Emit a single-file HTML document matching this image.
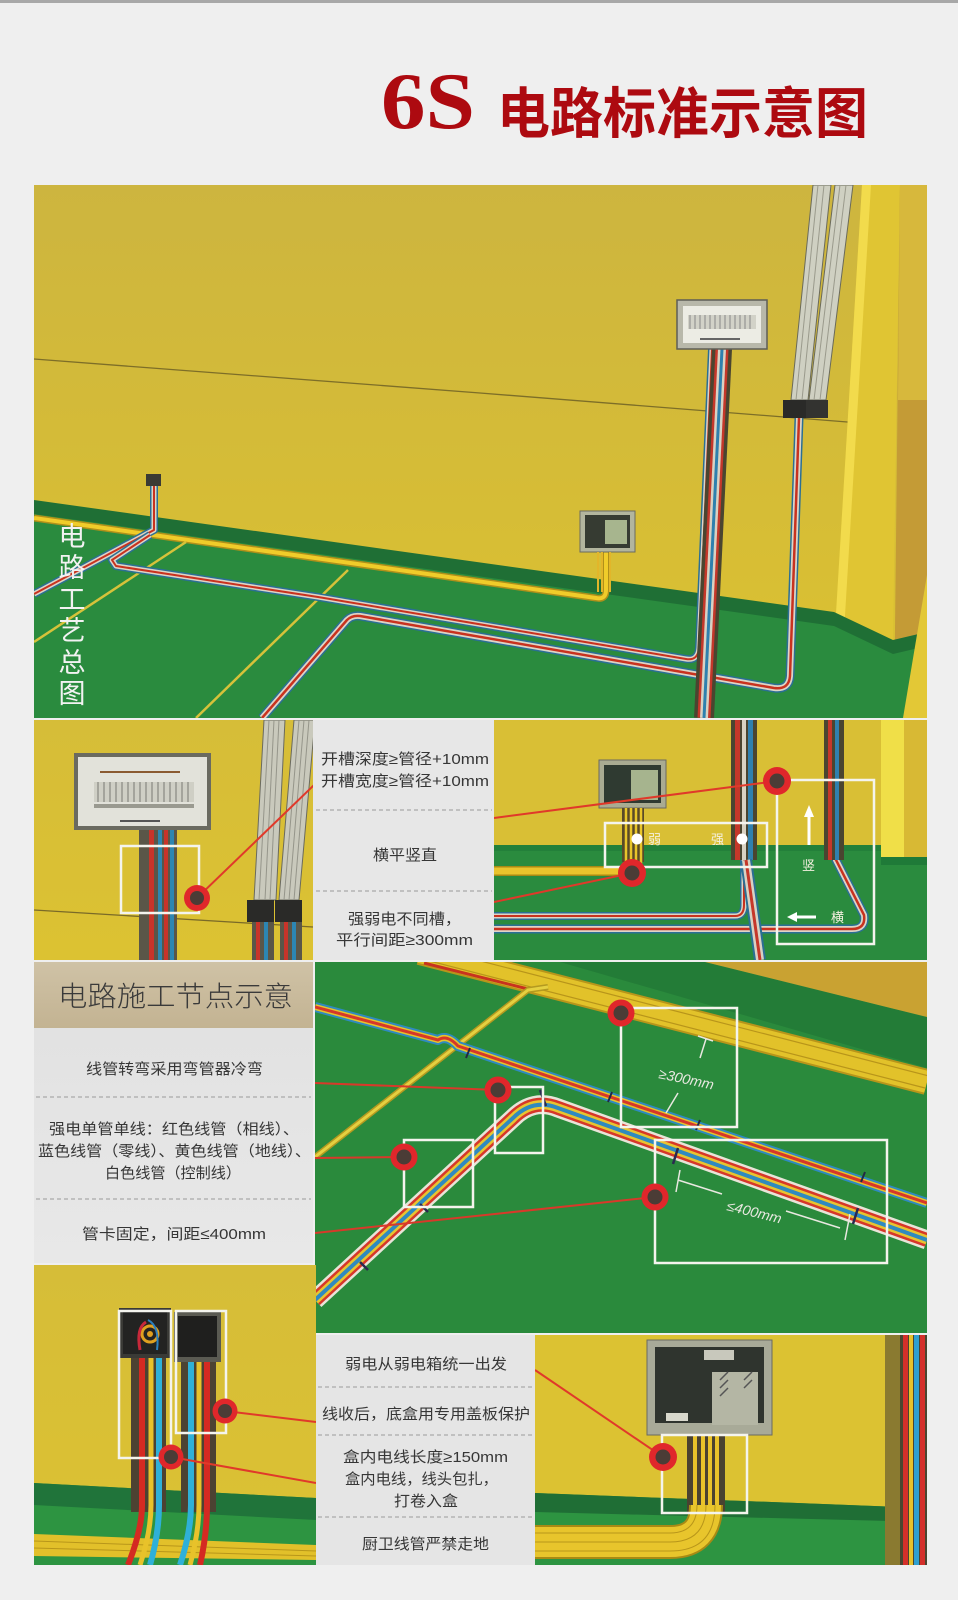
<!DOCTYPE html>
<html><head><meta charset="utf-8">
<style>
html,body{margin:0;padding:0;background:#efefef;width:958px;height:1600px;overflow:hidden}
svg{display:block}
</style></head>
<body>
<svg width="958" height="1600" viewBox="0 0 958 1600" xmlns="http://www.w3.org/2000/svg" xmlns:xlink="http://www.w3.org/1999/xlink" font-family="'Liberation Sans','Noto Sans CJK SC',sans-serif">
<defs>
  <clipPath id="c1"><rect x="34" y="185" width="893" height="533"/></clipPath>
  <clipPath id="c2l"><rect x="34" y="720" width="279" height="240"/></clipPath>
  <clipPath id="c2r"><rect x="494" y="720" width="433" height="240"/></clipPath>
  <clipPath id="c3r"><rect x="315" y="962" width="612" height="371"/></clipPath>
  <clipPath id="c4l"><rect x="34" y="1265" width="282" height="300"/></clipPath>
  <clipPath id="c4r"><rect x="535" y="1335" width="392" height="230"/></clipPath>
  <linearGradient id="gw1" x1="0" y1="0" x2="0" y2="1">
    <stop offset="0" stop-color="#cdb53f"/><stop offset="1" stop-color="#dcc230"/>
  </linearGradient>
  <linearGradient id="gw2" x1="0" y1="0" x2="0" y2="1">
    <stop offset="0" stop-color="#d6bd38"/><stop offset="1" stop-color="#dcc232"/>
  </linearGradient>
  <linearGradient id="gtan" x1="0" y1="0" x2="0" y2="1">
    <stop offset="0" stop-color="#cfc2a6"/><stop offset="1" stop-color="#c3b392"/>
  </linearGradient>
  <linearGradient id="ggray" x1="0" y1="0" x2="0" y2="1">
    <stop offset="0" stop-color="#e2e2e2"/><stop offset="1" stop-color="#e8e8e8"/>
  </linearGradient>
  <path id="m1" d="M154,484 L154,530 L34,594"/>
  <path id="m2" d="M150,535 L112,560 L116,566 L318,597 L686,659 Q698,661 699,648 L712,349"/>
  <path id="m3" d="M262,718 L347,620 Q352,615 360,616 L774,688 Q789,690 790,676 L799,418"/>
  <path id="r3a" d="M315,1007 L438,1040 Q447,1034 458,1046 L927,1203"/>
  <path id="r3b" d="M315,1300 L513,1118 Q533,1098 558,1108 L927,1240"/>
</defs>

<rect width="958" height="1600" fill="#efefef"/>
<rect width="958" height="3" fill="#a8a8a8"/>

<!-- Title -->
<text x="381" y="128" font-family="'Liberation Serif',serif" font-weight="bold" font-size="80" fill="#ad0a10" textLength="94" lengthAdjust="spacingAndGlyphs">6S</text>
<text x="497" y="133" font-family="'Noto Sans CJK SC',sans-serif" font-weight="bold" font-size="55" fill="#ad0a10" textLength="371" lengthAdjust="spacingAndGlyphs">电路标准示意图</text>

<!-- ============ PANEL 1 ============ -->
<g clip-path="url(#c1)">
  <rect x="34" y="185" width="893" height="533" fill="url(#gw1)"/>
  <polyline points="34,359 480,393 860,423" stroke="#7d6e28" stroke-width="1.3" fill="none"/>
  <polygon points="862,185 900,185 893,640 835,630" fill="#e0c533"/>
  <polygon points="862,185 871,185 844,632 835,630" fill="#f2db4c"/>
  <polygon points="900,185 927,185 927,718 894,718" fill="#c49b36"/>
  <polygon points="900,185 927,185 927,400 898,400" fill="#d7b83c"/>
  <polygon points="34,500 834,612 893,640 927,632 927,718 34,718" fill="#1f6f35"/>
  <polygon points="34,514 834,626 893,654 927,646 927,718 34,718" fill="#2a8b3e"/>
  <polygon points="903,718 927,575 927,718" fill="#e3c836"/>
  <path d="M34,518 L596,598 Q606,600 606,590 L606,552" stroke="#b0901a" stroke-width="7" fill="none"/>
  <path d="M34,518 L596,598 Q606,600 606,590 L606,552" stroke="#f0cc2a" stroke-width="4" fill="none"/>
  <path d="M34,642 L186,542" stroke="#d6c23a" stroke-width="2.5" fill="none"/>
  <path d="M196,718 L348,570" stroke="#d6c23a" stroke-width="2.5" fill="none"/>
  <g fill="none" stroke-linejoin="round">
    <use xlink:href="#m1" stroke="#2b6f95" stroke-width="8"/>
    <use xlink:href="#m1" stroke="#ddd5c6" stroke-width="5"/>
    <use xlink:href="#m1" stroke="#c8321f" stroke-width="2"/>
    <use xlink:href="#m2" stroke="#2b6f95" stroke-width="8"/>
    <use xlink:href="#m2" stroke="#ddd5c6" stroke-width="5"/>
    <use xlink:href="#m2" stroke="#c8321f" stroke-width="2"/>
    <use xlink:href="#m3" stroke="#2b6f95" stroke-width="9"/>
    <use xlink:href="#m3" stroke="#ddd5c6" stroke-width="6"/>
    <use xlink:href="#m3" stroke="#c8321f" stroke-width="2.5"/>
  </g>
  <path d="M722,349 L704,718" stroke="#4a4530" stroke-width="20" fill="none"/>
  <path d="M722,349 L704,718" stroke="#c5372a" stroke-width="13" fill="none"/>
  <path d="M722,349 L704,718" stroke="#d8d2c3" stroke-width="8" fill="none"/>
  <path d="M722,349 L704,718" stroke="#2f80ae" stroke-width="3" fill="none"/>
  <polygon points="813,185 831,185 808,400 791,400" fill="#cfd0c2" stroke="#6a6a5a" stroke-width="1"/>
  <polygon points="835,185 853,185 826,400 809,400" fill="#cfd0c2" stroke="#6a6a5a" stroke-width="1"/>
  <path d="M818,185 L796,400 M824,185 L802,400 M840,185 L814,400 M846,185 L820,400" stroke="#9a9a8c" stroke-width="1"/>
  <rect x="783" y="400" width="40" height="18" fill="#2a2a28"/>
  <rect x="806" y="400" width="22" height="18" fill="#333330"/>
  <rect x="677" y="300" width="90" height="49" fill="#b8b8aa" stroke="#5e5e56" stroke-width="1.5"/>
  <rect x="683" y="306" width="78" height="37" fill="#ecece4"/>
  <rect x="688" y="315" width="68" height="14" fill="#d2d2c8"/>
  <path d="M690,315 v14 M695,315 v14 M700,315 v14 M705,315 v14 M710,315 v14 M715,315 v14 M720,315 v14 M725,315 v14 M730,315 v14 M735,315 v14 M740,315 v14 M745,315 v14 M750,315 v14" stroke="#888" stroke-width="1"/>
  <rect x="700" y="338" width="40" height="2" fill="#666"/>
  <rect x="580" y="511" width="55" height="41" fill="#b2b59e" stroke="#6a6a60" stroke-width="1"/>
  <rect x="585" y="515" width="45" height="33" fill="#363b32"/>
  <rect x="605" y="520" width="22" height="24" fill="#a7b58e"/>
  <path d="M598,552 v40 M602,552 v40 M610,552 v40" stroke="#e2b62a" stroke-width="2"/>
  <rect x="146" y="474" width="15" height="12" fill="#3a3a34"/>
  <g fill="#f2f2f2" font-family="'Noto Sans CJK SC',sans-serif" font-size="27" text-anchor="middle">
    <text x="72" y="546">电</text>
    <text x="72" y="577">路</text>
    <text x="72" y="609">工</text>
    <text x="72" y="640">艺</text>
    <text x="72" y="672">总</text>
    <text x="72" y="703">图</text>
  </g>
</g>

<!-- ============ PANEL 2 LEFT ============ -->
<g clip-path="url(#c2l)">
  <rect x="34" y="720" width="279" height="240" fill="url(#gw2)"/>
  <path d="M34,910 L313,927" stroke="#7a6a28" stroke-width="1.3" fill="none"/>
  <rect x="139" y="830" width="38" height="130" fill="#5a5648"/>
  <rect x="149" y="830" width="5" height="130" fill="#c8342a"/>
  <rect x="158" y="830" width="4" height="130" fill="#2d86b2"/>
  <rect x="164" y="830" width="4" height="130" fill="#c8342a"/>
  <rect x="170" y="830" width="4" height="130" fill="#2d86b2"/>
  <rect x="74" y="753" width="137" height="77" fill="#6a6a60"/>
  <rect x="78" y="757" width="129" height="69" fill="#e2e2da"/>
  <rect x="94" y="782" width="100" height="20" fill="#cfcfc5"/>
  <path d="M98,782 v20 M104,782 v20 M110,782 v20 M116,782 v20 M122,782 v20 M128,782 v20 M134,782 v20 M140,782 v20 M146,782 v20 M152,782 v20 M158,782 v20 M164,782 v20 M170,782 v20 M176,782 v20 M182,782 v20 M188,782 v20" stroke="#7a7a72" stroke-width="1"/>
  <path d="M100,772 h80" stroke="#8a5a30" stroke-width="2"/>
  <rect x="94" y="804" width="100" height="4" fill="#9a9a90"/>
  <rect x="120" y="820" width="40" height="2" fill="#555"/>
  <polygon points="264,720 285,720 276,900 254,900" fill="#c9c9bc" stroke="#6a6a5e" stroke-width="1"/>
  <polygon points="294,720 315,720 299,900 279,900" fill="#c9c9bc" stroke="#6a6a5e" stroke-width="1"/>
  <path d="M269,720 L259,900 M274,720 L265,900 M279,720 L270,900 M299,720 L284,900 M304,720 L289,900 M309,720 L294,900" stroke="#95958a" stroke-width="1"/>
  <rect x="247" y="900" width="27" height="22" fill="#2a2a28"/>
  <rect x="275" y="900" width="27" height="22" fill="#2a2a28"/>
  <rect x="252" y="922" width="22" height="38" fill="#5a5648"/>
  <rect x="256" y="922" width="4" height="38" fill="#c8342a"/>
  <rect x="264" y="922" width="4" height="38" fill="#2d86b2"/>
  <rect x="280" y="922" width="22" height="38" fill="#5a5648"/>
  <rect x="284" y="922" width="4" height="38" fill="#c8342a"/>
  <rect x="292" y="922" width="4" height="38" fill="#2d86b2"/>
  <rect x="121" y="846" width="78" height="67" fill="none" stroke="#f4f4ee" stroke-width="2.5"/>
  <path d="M198,897 L314,785" stroke="#e0392a" stroke-width="2"/>
  <circle cx="197" cy="898" r="13" fill="#e0272b"/>
  <circle cx="197" cy="898" r="7" fill="#4b3c36"/>
</g>

<!-- ============ PANEL 2 TEXT ============ -->
<rect x="313" y="720" width="181" height="240" fill="#e7e7e7"/>
<path d="M316,810 H492 M316,891 H492" stroke="#9a9a9a" stroke-width="1" stroke-dasharray="4,3"/>
<g fill="#363636" font-size="15">
  <text x="321" y="764" textLength="168" lengthAdjust="spacingAndGlyphs">开槽深度≥管径+10mm</text>
  <text x="321" y="786" textLength="168" lengthAdjust="spacingAndGlyphs">开槽宽度≥管径+10mm</text>
  <text x="373" y="860" textLength="64" lengthAdjust="spacingAndGlyphs">横平竖直</text>
  <text x="348" y="924" textLength="113" lengthAdjust="spacingAndGlyphs">强弱电不同槽，</text>
  <text x="336" y="945" textLength="137" lengthAdjust="spacingAndGlyphs">平行间距≥300mm</text>
</g>

<!-- ============ PANEL 2 RIGHT ============ -->
<g clip-path="url(#c2r)">
  <rect x="494" y="720" width="433" height="240" fill="#d9bf35"/>
  <rect x="494" y="845" width="433" height="115" fill="#2a8b3e"/>
  <rect x="494" y="845" width="433" height="6" fill="#23803a"/>
  <rect x="881" y="720" width="23" height="137" fill="#f0df48"/>
  <rect x="904" y="720" width="23" height="137" fill="#d8b934"/>
  <rect x="881" y="857" width="46" height="8" fill="#1f7a38"/>
  <rect x="599" y="760" width="67" height="48" fill="#a9ab92" stroke="#6a6a60" stroke-width="1"/>
  <rect x="604" y="765" width="57" height="38" fill="#2f3a31"/>
  <rect x="631" y="770" width="27" height="30" fill="#a6b48e"/>
  <rect x="622" y="808" width="22" height="54" fill="#5a4a28"/>
  <path d="M626,808 v56 M631,808 v56 M636,808 v56 M641,808 v56" stroke="#e8c52a" stroke-width="2.5"/>
  <path d="M632,862 Q632,871 622,871 L494,871" stroke="#a88a14" stroke-width="10" fill="none"/>
  <path d="M632,862 Q632,871 622,871 L494,871" stroke="#eac42c" stroke-width="7" fill="none"/>
  <path d="M494,916 L735,916 Q744,916 744,905 L744,860" stroke="#2b6f95" stroke-width="8" fill="none"/>
  <path d="M494,916 L735,916 Q744,916 744,905 L744,860" stroke="#ddd5c6" stroke-width="5" fill="none"/>
  <path d="M494,916 L735,916 Q744,916 744,905 L744,860" stroke="#c8321f" stroke-width="2" fill="none"/>
  <path d="M494,929 L852,929 Q866,929 864,915 L836,860 L834,720" stroke="#2b6f95" stroke-width="9" fill="none"/>
  <path d="M494,929 L852,929 Q866,929 864,915 L836,860 L834,720" stroke="#ddd5c6" stroke-width="6" fill="none"/>
  <path d="M494,929 L852,929 Q866,929 864,915 L836,860 L834,720" stroke="#c8321f" stroke-width="2.5" fill="none"/>
  <rect x="731" y="720" width="26" height="140" fill="#4a4530"/>
  <rect x="735" y="720" width="5" height="140" fill="#c5372a"/>
  <rect x="742" y="720" width="4" height="140" fill="#d8d2c3"/>
  <rect x="748" y="720" width="5" height="140" fill="#2f80ae"/>
  <path d="M746,860 L760,960" stroke="#2b6f95" stroke-width="12" fill="none"/>
  <path d="M746,860 L760,960" stroke="#d8d2c3" stroke-width="8" fill="none"/>
  <path d="M746,860 L760,960" stroke="#c5372a" stroke-width="3" fill="none"/>
  <rect x="824" y="720" width="20" height="140" fill="#4a4530"/>
  <rect x="828" y="720" width="4" height="140" fill="#c5372a"/>
  <rect x="835" y="720" width="4" height="140" fill="#2f80ae"/>
  <rect x="605" y="823" width="162" height="44" fill="none" stroke="#f4f4ee" stroke-width="2.5"/>
  <rect x="777" y="780" width="97" height="164" fill="none" stroke="#f4f4ee" stroke-width="2.5"/>
  <circle cx="637" cy="839" r="5.5" fill="#fff"/>
  <circle cx="742" cy="839" r="5.5" fill="#fff"/>
  <g fill="#f4f0e0" font-size="13" font-family="'Noto Sans CJK SC',sans-serif">
    <text x="648" y="844">弱</text>
    <text x="711" y="844">强</text>
    <text x="802" y="870">竖</text>
    <text x="831" y="922">横</text>
  </g>
  <path d="M809,845 L809,815" stroke="#fff" stroke-width="3"/>
  <polygon points="804,817 814,817 809,805" fill="#fff"/>
  <path d="M816,917 L795,917" stroke="#fff" stroke-width="3"/>
  <polygon points="797,912 797,922 787,917" fill="#fff"/>
  <path d="M777,781 L494,818" stroke="#e0392a" stroke-width="2"/>
  <path d="M632,873 L494,902" stroke="#e0392a" stroke-width="2"/>
  <circle cx="777" cy="781" r="14" fill="#e0272b"/>
  <circle cx="777" cy="781" r="7.5" fill="#4b3c36"/>
  <circle cx="632" cy="873" r="14" fill="#e0272b"/>
  <circle cx="632" cy="873" r="7.5" fill="#4b3c36"/>
</g>

<!-- ============ PANEL 3 LEFT TEXT ============ -->
<rect x="34" y="962" width="279" height="66" fill="url(#gtan)"/>
<rect x="34" y="1028" width="279" height="235" fill="url(#ggray)"/>
<path d="M36,1097 H311 M36,1199 H311" stroke="#9a9a9a" stroke-width="1" stroke-dasharray="4,3"/>
<text x="58" y="1006" font-family="'Noto Sans CJK SC',sans-serif" font-weight="300" font-size="28" fill="#3a3a3a" textLength="235" lengthAdjust="spacingAndGlyphs">电路施工节点示意</text>
<g fill="#363636" font-size="15">
  <text x="86" y="1074" textLength="177" lengthAdjust="spacingAndGlyphs">线管转弯采用弯管器冷弯</text>
  <text x="49" y="1134" textLength="250" lengthAdjust="spacingAndGlyphs">强电单管单线：红色线管（相线）、</text>
  <text x="38" y="1156" textLength="273" lengthAdjust="spacingAndGlyphs">蓝色线管（零线）、黄色线管（地线）、</text>
  <text x="105" y="1178" textLength="136" lengthAdjust="spacingAndGlyphs">白色线管（控制线）</text>
  <text x="82" y="1239" textLength="184" lengthAdjust="spacingAndGlyphs">管卡固定，间距≤400mm</text>
</g>

<!-- ============ PANEL 3 RIGHT ============ -->
<g clip-path="url(#c3r)">
  <rect x="315" y="962" width="612" height="371" fill="#2a8a3c"/>
  <polygon points="560,962 705,962 927,1017 927,1068" fill="#237c37"/>
  <polygon points="705,962 927,962 927,1017" fill="#c9a232"/>
  <path d="M420,952 L927,1082" stroke="#b8951a" stroke-width="26" fill="none"/>
  <path d="M420,952 L927,1082" stroke="#e2c22a" stroke-width="22" fill="none"/>
  <path d="M418,958 L925,1088 M422,946 L929,1076" stroke="#b8951a" stroke-width="1.2" fill="none"/>
  <path d="M424,963 L532,990" stroke="#c8321f" stroke-width="3" fill="none"/>
  <path d="M315,1157 L528,990 L548,987" stroke="#b49a20" stroke-width="6" fill="none"/>
  <path d="M315,1157 L528,990 L548,987" stroke="#e5d040" stroke-width="3" fill="none"/>
  <g fill="none" stroke-linejoin="round">
    <use xlink:href="#r3a" stroke="#2f8ac0" stroke-width="10"/>
    <use xlink:href="#r3a" stroke="#e5c42a" stroke-width="6"/>
    <use xlink:href="#r3a" stroke="#d6372a" stroke-width="3"/>
    <use xlink:href="#r3b" stroke="#e8e4d8" stroke-width="19"/>
    <use xlink:href="#r3b" stroke="#d6372a" stroke-width="14"/>
    <use xlink:href="#r3b" stroke="#e8c430" stroke-width="9"/>
    <use xlink:href="#r3b" stroke="#2f8ac0" stroke-width="4"/>
  </g>
  <path d="M470,1048 l-4,10 M612,1092 l-4,10 M700,1120 l-4,10 M865,1172 l-4,10" stroke="#222a44" stroke-width="2"/>
  <path d="M540,1090 l6,16 M678,1148 l-5,16 M858,1208 l-5,16 M360,1262 l8,8 M420,1204 l8,8" stroke="#2a2a50" stroke-width="2.5"/>
  <rect x="621" y="1008" width="116" height="119" fill="none" stroke="#f4f4ee" stroke-width="2.5"/>
  <rect x="495" y="1087" width="48" height="66" fill="none" stroke="#f4f4ee" stroke-width="2.5"/>
  <rect x="404" y="1140" width="69" height="67" fill="none" stroke="#f4f4ee" stroke-width="2.5"/>
  <rect x="655" y="1140" width="232" height="123" fill="none" stroke="#f4f4ee" stroke-width="2.5"/>
  <path d="M698,1036 L713,1041 M706,1039 L700,1058 M678,1093 L666,1113" stroke="#e8e8e0" stroke-width="1.5"/>
  <text x="658" y="1078" font-size="14" font-style="italic" fill="#e8e8e0" transform="rotate(12 658 1078)" textLength="56" lengthAdjust="spacingAndGlyphs">≥300mm</text>
  <path d="M678,1180 L722,1194 M786,1211 L840,1228 M680,1170 L676,1192 M850,1214 L845,1240" stroke="#e8e8e0" stroke-width="1.5"/>
  <text x="726" y="1210" font-size="14" font-style="italic" fill="#e8e8e0" transform="rotate(14 726 1210)" textLength="56" lengthAdjust="spacingAndGlyphs">≤400mm</text>
  <path d="M315,1083 L498,1090" stroke="#d8392a" stroke-width="2"/>
  <path d="M315,1158 L404,1157" stroke="#d8392a" stroke-width="2"/>
  <path d="M315,1233 L655,1197" stroke="#d8392a" stroke-width="2"/>
  <circle cx="621" cy="1013" r="13.5" fill="#e0272b"/><circle cx="621" cy="1013" r="7.5" fill="#4b3c36"/>
  <circle cx="498" cy="1090" r="13.5" fill="#e0272b"/><circle cx="498" cy="1090" r="7.5" fill="#4b3c36"/>
  <circle cx="404" cy="1157" r="13.5" fill="#e0272b"/><circle cx="404" cy="1157" r="7.5" fill="#4b3c36"/>
  <circle cx="655" cy="1197" r="13.5" fill="#e0272b"/><circle cx="655" cy="1197" r="7.5" fill="#4b3c36"/>
</g>

<!-- ============ PANEL 4 LEFT ============ -->
<g clip-path="url(#c4l)">
  <rect x="34" y="1265" width="282" height="300" fill="url(#gw2)"/>
  <polygon points="34,1483 316,1498 316,1565 34,1565" fill="#2d9441"/>
  <polygon points="34,1483 316,1498 316,1520 34,1505" fill="#20743a"/>
  <polygon points="34,1534 316,1545 316,1560 34,1556" fill="#e2c02a"/>
  <path d="M34,1541 L316,1551 M34,1548 L316,1556" stroke="#b8961a" stroke-width="1"/>
  <rect x="131" y="1358" width="35" height="154" fill="#4c4232"/>
  <rect x="181" y="1362" width="35" height="150" fill="#4c4232"/>
  <path d="M142,1358 L142,1505 Q142,1530 128,1565" stroke="#d42a22" stroke-width="6" fill="none"/>
  <path d="M151,1358 L151,1505 Q151,1532 140,1565" stroke="#e8c22a" stroke-width="5" fill="none"/>
  <path d="M159,1358 L159,1505 Q159,1534 150,1565" stroke="#2fb0d8" stroke-width="6" fill="none"/>
  <path d="M191,1362 L191,1505 Q191,1532 180,1565" stroke="#2fb0d8" stroke-width="6" fill="none"/>
  <path d="M199,1362 L199,1505 Q199,1532 190,1565" stroke="#e8c22a" stroke-width="5" fill="none"/>
  <path d="M207,1362 L207,1505 Q207,1534 200,1565" stroke="#d42a22" stroke-width="6" fill="none"/>
  <rect x="119" y="1308" width="52" height="50" fill="#3a3a36"/>
  <rect x="123" y="1312" width="44" height="42" fill="#232322"/>
  <circle cx="150" cy="1334" r="8" fill="none" stroke="#e0a020" stroke-width="3"/>
  <circle cx="150" cy="1334" r="3" fill="#e0a020"/>
  <path d="M140,1350 Q136,1328 146,1322" stroke="#c8283a" stroke-width="3" fill="none"/>
  <path d="M157,1350 Q160,1326 148,1320" stroke="#2a80c0" stroke-width="2" fill="none"/>
  <rect x="174" y="1312" width="47" height="50" fill="#5a5a52"/>
  <rect x="178" y="1316" width="39" height="41" fill="#1f1f1e"/>
  <rect x="119" y="1311" width="52" height="147" fill="none" stroke="#f4f4ee" stroke-width="2.5"/>
  <rect x="176" y="1311" width="50" height="122" fill="none" stroke="#f4f4ee" stroke-width="2.5"/>
  <path d="M225,1411 L316,1422" stroke="#e0392a" stroke-width="2"/>
  <path d="M171,1457 L316,1483" stroke="#e0392a" stroke-width="2"/>
  <circle cx="225" cy="1411" r="12.5" fill="#e0272b"/><circle cx="225" cy="1411" r="7" fill="#4b3c36"/>
  <circle cx="171" cy="1457" r="12.5" fill="#e0272b"/><circle cx="171" cy="1457" r="7" fill="#4b3c36"/>
</g>

<!-- ============ PANEL 4 TEXT ============ -->
<rect x="316" y="1335" width="219" height="230" fill="#e5e5e5"/>
<path d="M318,1387 H533 M318,1435 H533 M318,1517 H533" stroke="#9a9a9a" stroke-width="1" stroke-dasharray="4,3"/>
<g fill="#363636" font-size="15">
  <text x="345" y="1369" textLength="162" lengthAdjust="spacingAndGlyphs">弱电从弱电箱统一出发</text>
  <text x="322" y="1419" textLength="208" lengthAdjust="spacingAndGlyphs">线收后，底盒用专用盖板保护</text>
  <text x="343" y="1462" textLength="165" lengthAdjust="spacingAndGlyphs">盒内电线长度≥150mm</text>
  <text x="345" y="1484" textLength="153" lengthAdjust="spacingAndGlyphs">盒内电线，线头包扎，</text>
  <text x="394" y="1506" textLength="64" lengthAdjust="spacingAndGlyphs">打卷入盒</text>
  <text x="362" y="1549" textLength="127" lengthAdjust="spacingAndGlyphs">厨卫线管严禁走地</text>
</g>

<!-- ============ PANEL 4 RIGHT ============ -->
<g clip-path="url(#c4r)">
  <rect x="535" y="1335" width="392" height="230" fill="#dcc232"/>
  <polygon points="535,1493 927,1508 927,1565 535,1565" fill="#2d9441"/>
  <polygon points="535,1493 927,1508 927,1522 535,1512" fill="#1f6e35"/>
  <polygon points="885,1335 900,1335 900,1565 885,1565" fill="#8a7a30"/>
  <rect x="900" y="1335" width="27" height="230" fill="#4a4630"/>
  <rect x="903" y="1335" width="5" height="230" fill="#d4302a"/>
  <rect x="909" y="1335" width="4" height="230" fill="#e8c22a"/>
  <rect x="914" y="1335" width="5" height="230" fill="#2fa0d0"/>
  <rect x="920" y="1335" width="5" height="230" fill="#d4302a"/>
  <rect x="687" y="1433" width="38" height="80" fill="#4a4230"/>
  <path d="M695,1433 V1510 M703,1433 V1510 M710,1433 V1510 M717,1433 V1510" stroke="#e8c22a" stroke-width="4"/>
  <path d="M706,1505 Q706,1542 670,1542 L535,1542" stroke="#a88a14" stroke-width="34" fill="none"/>
  <path d="M706,1505 Q706,1542 670,1542 L535,1542" stroke="#e8c52c" stroke-width="30" fill="none"/>
  <path d="M697,1505 Q697,1533 670,1533 L535,1533 M706,1505 Q706,1542 670,1542 L535,1542 M715,1505 Q715,1551 670,1551 L535,1551" stroke="#b8961a" stroke-width="1" fill="none"/>
  <rect x="647" y="1340" width="125" height="95" fill="#a8aa98" stroke="#6a6a60" stroke-width="1"/>
  <rect x="655" y="1347" width="109" height="76" fill="#2f342e"/>
  <rect x="704" y="1350" width="30" height="10" fill="#c8c8bc"/>
  <rect x="712" y="1372" width="46" height="53" fill="#b4b6a4"/>
  <rect x="666" y="1413" width="22" height="8" fill="#d8d8cc"/>
  <path d="M720,1380 l8,-8 M720,1388 l8,-8 M720,1396 l8,-8 M744,1380 l8,-8 M744,1388 l8,-8" stroke="#555" stroke-width="1.5"/>
  <rect x="662" y="1435" width="85" height="78" fill="none" stroke="#f4f4ee" stroke-width="2.5"/>
  <path d="M663,1457 L535,1370" stroke="#e0392a" stroke-width="2"/>
  <circle cx="663" cy="1457" r="14" fill="#e0272b"/><circle cx="663" cy="1457" r="7.5" fill="#4b3c36"/>
</g>

</svg>
</body></html>
